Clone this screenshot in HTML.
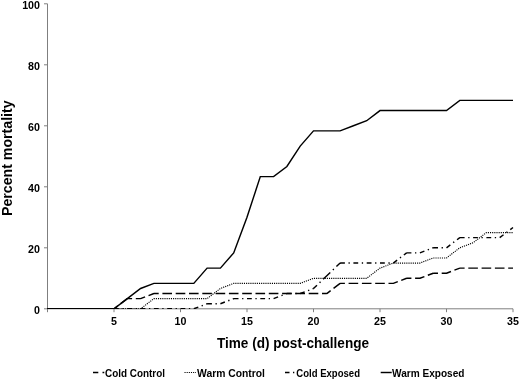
<!DOCTYPE html>
<html><head><meta charset="utf-8"><title>Percent mortality</title>
<style>
html,body{margin:0;padding:0;background:#fff;}
svg{display:block;font-family:"Liberation Sans",sans-serif;}
.l{fill:none;stroke:#000;stroke-width:1.45;stroke-linejoin:miter;}
.ax{stroke:#7f7f7f;stroke-width:1;fill:none;}
.tk{font-size:10.7px;fill:#000;font-weight:bold;}
.tt{font-size:14.3px;font-weight:bold;fill:#000;}
.lg{font-size:11.2px;font-weight:bold;fill:#000;}
</style></head><body>
<svg width="520" height="381" viewBox="0 0 520 381">
<rect width="520" height="381" fill="#fff"/>
<line class="ax" x1="47.5" x2="47.5" y1="3.8" y2="308.8"/>
<line class="ax" x1="47.5" x2="513" y1="308.8" y2="308.8"/>
<line class="ax" x1="44" x2="47.5" y1="308.8" y2="308.8"/>
<text class="tk" text-anchor="end" x="40" y="313.8">0</text>
<line class="ax" x1="44" x2="47.5" y1="247.8" y2="247.8"/>
<text class="tk" text-anchor="end" x="40" y="252.8">20</text>
<line class="ax" x1="44" x2="47.5" y1="186.8" y2="186.8"/>
<text class="tk" text-anchor="end" x="40" y="191.8">40</text>
<line class="ax" x1="44" x2="47.5" y1="125.8" y2="125.8"/>
<text class="tk" text-anchor="end" x="40" y="130.8">60</text>
<line class="ax" x1="44" x2="47.5" y1="64.8" y2="64.8"/>
<text class="tk" text-anchor="end" x="40" y="69.8">80</text>
<line class="ax" x1="44" x2="47.5" y1="3.8" y2="3.8"/>
<text class="tk" text-anchor="end" x="40" y="8.8">100</text>
<line class="ax" x1="47.5" x2="47.5" y1="308.8" y2="312.2"/>
<line class="ax" x1="114" x2="114" y1="308.8" y2="312.2"/>
<text class="tk" text-anchor="middle" x="114" y="325.1">5</text>
<line class="ax" x1="180.5" x2="180.5" y1="308.8" y2="312.2"/>
<text class="tk" text-anchor="middle" x="180.5" y="325.1">10</text>
<line class="ax" x1="247" x2="247" y1="308.8" y2="312.2"/>
<text class="tk" text-anchor="middle" x="247" y="325.1">15</text>
<line class="ax" x1="313.5" x2="313.5" y1="308.8" y2="312.2"/>
<text class="tk" text-anchor="middle" x="313.5" y="325.1">20</text>
<line class="ax" x1="380" x2="380" y1="308.8" y2="312.2"/>
<text class="tk" text-anchor="middle" x="380" y="325.1">25</text>
<line class="ax" x1="446.5" x2="446.5" y1="308.8" y2="312.2"/>
<text class="tk" text-anchor="middle" x="446.5" y="325.1">30</text>
<line class="ax" x1="513" x2="513" y1="308.8" y2="312.2"/>
<text class="tk" text-anchor="middle" x="513" y="325.1">35</text>
<defs><clipPath id="plot"><rect x="40" y="0" width="480" height="308.9"/></clipPath></defs>
<g clip-path="url(#plot)">
<path class="l" stroke-dasharray="9.6 3.7" stroke-dashoffset="4.8" d="M47.5 308.8L60.8 308.8M60.8 308.8L74.1 308.8M74.1 308.8L87.4 308.8M87.4 308.8L100.7 308.8M100.7 308.8L114 308.8M114 308.8L127.3 298.63M127.3 298.63L140.6 298.63M140.6 298.63L153.9 293.55M153.9 293.55L167.2 293.55M167.2 293.55L180.5 293.55M180.5 293.55L193.8 293.55M193.8 293.55L207.1 293.55M207.1 293.55L220.4 293.55M220.4 293.55L233.7 293.55M233.7 293.55L247 293.55M247 293.55L260.3 293.55M260.3 293.55L273.6 293.55M273.6 293.55L286.9 293.55M286.9 293.55L300.2 293.55M300.2 293.55L313.5 293.55M313.5 293.55L326.8 293.55M326.8 293.55L340.1 283.38M340.1 283.38L353.4 283.38M353.4 283.38L366.7 283.38M366.7 283.38L380 283.38M380 283.38L393.3 283.38M393.3 283.38L406.6 278.3M406.6 278.3L419.9 278.3M419.9 278.3L433.2 273.22M433.2 273.22L446.5 273.22M446.5 273.22L459.8 268.13M459.8 268.13L473.1 268.13M473.1 268.13L486.4 268.13M486.4 268.13L499.7 268.13M499.7 268.13L513 268.13"/>
<polyline class="l" style="stroke-width:1.15" stroke-dasharray="1.1 1.05" points="47.5,308.8 60.8,308.8 74.1,308.8 87.4,308.8 100.7,308.8 114,308.8 127.3,308.8 140.6,308.8 153.9,298.63 167.2,298.63 180.5,298.63 193.8,298.63 207.1,298.63 220.4,288.47 233.7,283.38 247,283.38 260.3,283.38 273.6,283.38 286.9,283.38 300.2,283.38 313.5,278.3 326.8,278.3 340.1,278.3 353.4,278.3 366.7,278.3 380,268.13 393.3,263.05 406.6,263.05 419.9,263.05 433.2,257.97 446.5,257.97 459.8,247.8 473.1,242.72 486.4,232.55 499.7,232.55 513,232.55"/>
<path class="l" stroke-dasharray="9.6 3.6 1.3 3.6" stroke-dashoffset="4.8" d="M47.5 308.8L60.8 308.8M60.8 308.8L74.1 308.8M74.1 308.8L87.4 308.8M87.4 308.8L100.7 308.8M100.7 308.8L114 308.8M114 308.8L127.3 308.8M127.3 308.8L140.6 308.8M140.6 308.8L153.9 308.8M153.9 308.8L167.2 308.8M167.2 308.8L180.5 308.8M180.5 308.8L193.8 308.8M193.8 308.8L207.1 303.72M207.1 303.72L220.4 303.72M220.4 303.72L233.7 298.63M233.7 298.63L247 298.63M247 298.63L260.3 298.63M260.3 298.63L273.6 298.63M273.6 298.63L286.9 293.55M286.9 293.55L300.2 293.55M300.2 293.55L313.5 288.47M313.5 288.47L326.8 275.76M326.8 275.76L340.1 263.05M340.1 263.05L353.4 263.05M353.4 263.05L366.7 263.05M366.7 263.05L380 263.05M380 263.05L393.3 263.05M393.3 263.05L406.6 252.88M406.6 252.88L419.9 252.88M419.9 252.88L433.2 247.8M433.2 247.8L446.5 247.8M446.5 247.8L459.8 237.63M459.8 237.63L473.1 237.63M473.1 237.63L486.4 237.63M486.4 237.63L499.7 237.63M499.7 237.63L513 227.47"/>
<polyline class="l" points="47.5,308.8 60.8,308.8 74.1,308.8 87.4,308.8 100.7,308.8 114,308.8 127.3,298.63 140.6,288.47 153.9,283.38 167.2,283.38 180.5,283.38 193.8,283.38 207.1,268.13 220.4,268.13 233.7,252.88 247,217.3 260.3,176.63 273.6,176.63 286.9,166.47 300.2,146.13 313.5,130.88 326.8,130.88 340.1,130.88 353.4,125.8 366.7,120.72 380,110.55 393.3,110.55 406.6,110.55 419.9,110.55 433.2,110.55 446.5,110.55 459.8,100.38 473.1,100.38 486.4,100.38 499.7,100.38 513,100.38"/>
</g>
<text class="tt" x="217" y="348" textLength="152" lengthAdjust="spacingAndGlyphs">Time (d) post-challenge</text>
<text class="tt" transform="translate(12.1,216) rotate(-90)" textLength="115.6" lengthAdjust="spacingAndGlyphs">Percent mortality</text>
<g>
<path class="l" d="M93 372.5h5.3M102.5 372.5h1.8"/>
<text class="lg" x="105" y="377" textLength="60" lengthAdjust="spacingAndGlyphs">Cold Control</text>
<path class="l" style="stroke-width:1.15" stroke-dasharray="1.1 1.05" d="M184.5 372.5h11.5"/>
<text class="lg" x="197" y="377" textLength="68" lengthAdjust="spacingAndGlyphs">Warm Control</text>
<path class="l" d="M285 372.5h4.5M293 372.5h1.3"/>
<text class="lg" x="296.3" y="377" textLength="63.7" lengthAdjust="spacingAndGlyphs">Cold Exposed</text>
<path class="l" d="M380.7 372.5h11"/>
<text class="lg" x="392" y="377" textLength="72.5" lengthAdjust="spacingAndGlyphs">Warm Exposed</text>
</g>
</svg>
</body></html>
